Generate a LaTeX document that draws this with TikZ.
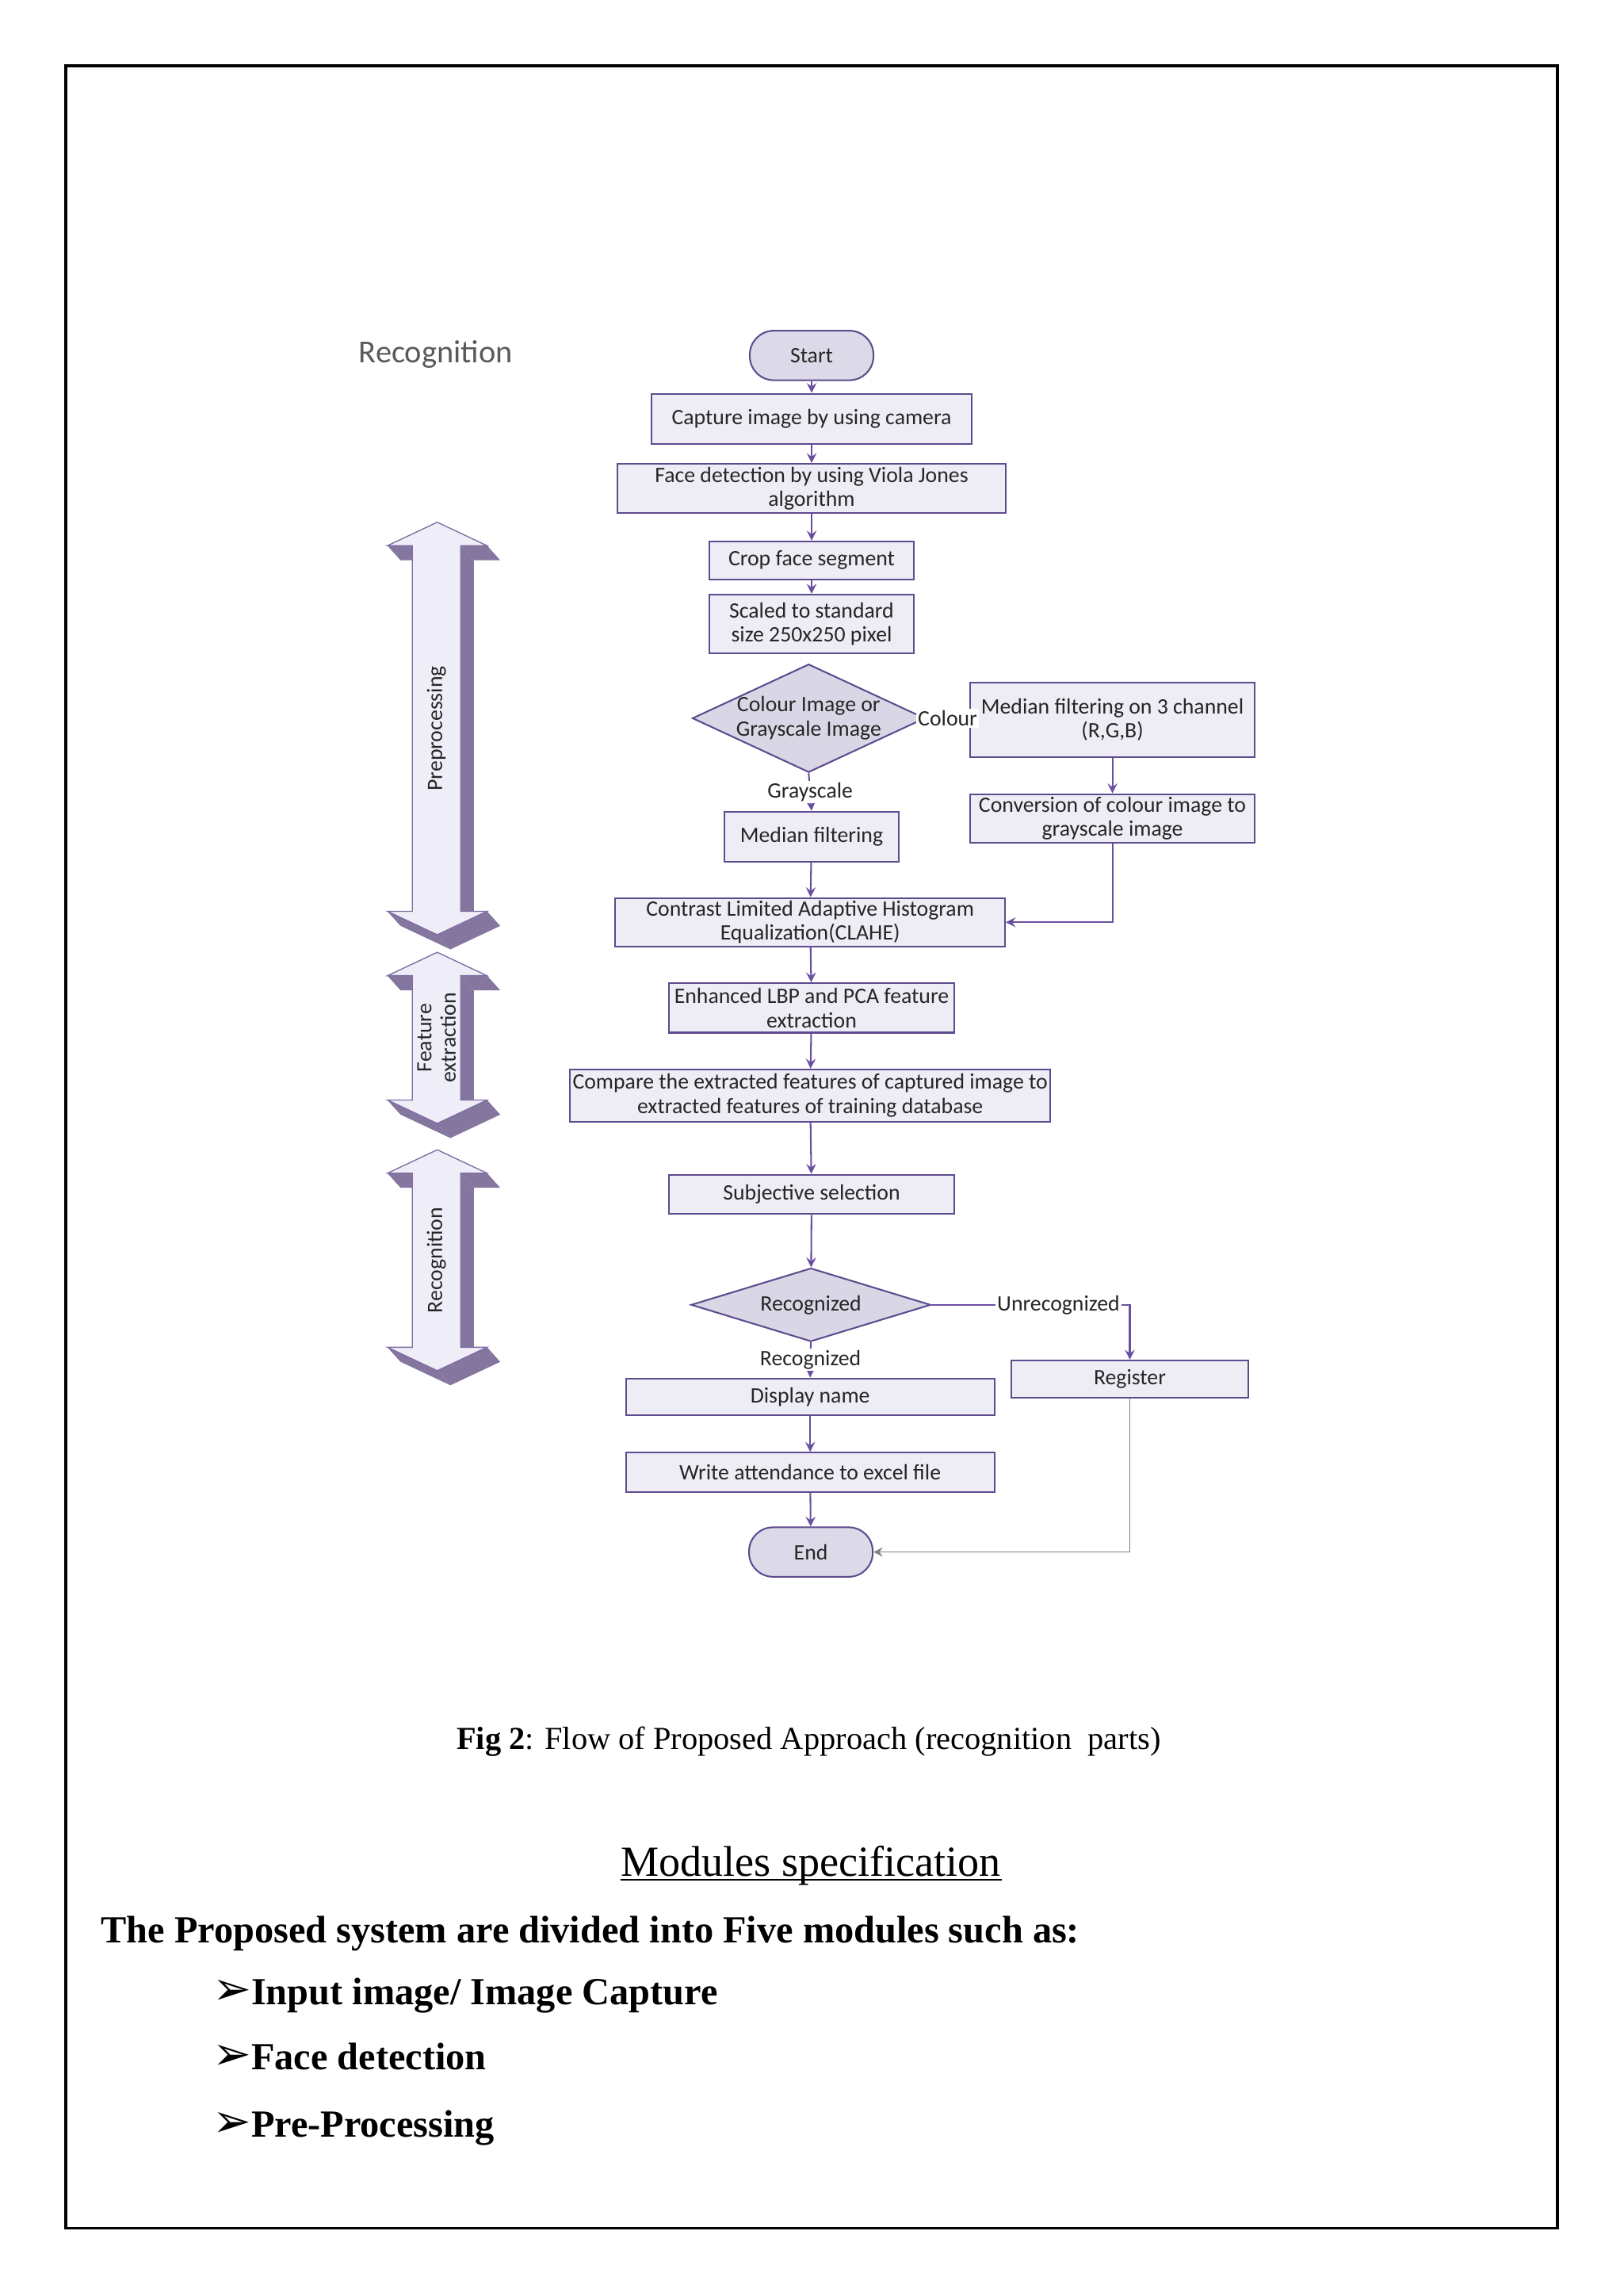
\documentclass[tikz,border=0pt]{standalone}
\usepackage{fontspec}
\setmainfont{Liberation Serif}
\newfontfamily\chartfont{Carlito}
\newfontfamily\dingfont{DejaVu Sans}
\usepackage{xcolor}
\usetikzlibrary{positioning, shapes.geometric, arrows}

\definecolor{boxline}{HTML}{5E4A8E}
\definecolor{boxfill}{HTML}{EEEDF5}
\definecolor{decfill}{HTML}{D9D7E5}
\definecolor{termfill}{HTML}{DCDAE8}
\definecolor{chartink}{HTML}{262626}
\definecolor{flowline}{HTML}{6A4FA0}
\definecolor{stagedark}{HTML}{85769F}
\definecolor{stagelight}{HTML}{EFEDF7}
\definecolor{titlegray}{HTML}{5A5A5A}

\newcommand{\charttext}{\chartfont\fontsize{8.1}{8.9}\selectfont}

\tikzset{
    procbox/.style={rectangle, draw=boxline, fill=boxfill, line width=0.6pt, text=chartink, font=\charttext, align=center, inner sep=1pt},
    decision/.style={diamond, draw=boxline, fill=decfill, line width=0.6pt, text=chartink, font=\charttext, align=center, inner sep=-1pt},
    terminal/.style={rectangle, rounded corners=3.1mm, draw=boxline, fill=termfill, line width=0.6pt, text=chartink, font=\charttext, minimum width=16mm, minimum height=6.4mm},
    flow/.style={-stealth, draw=flowline, line width=0.6pt},
    backflow/.style={-stealth, draw=gray, line width=0.5pt},
    flowlabel/.style={fill=white, inner sep=0.6pt, text=chartink, font=\charttext},
    stageface/.style={draw=boxline!80, fill=stagelight, line width=0.4pt},
    stagelabel/.style={rotate=90, text=chartink, font=\charttext, align=center},
}

% 3D double arrow at the left: #1 top tip, #2 bottom tip, #3 name, #4 label
\newcommand{\stagearrow}[4]{
    \coordinate (#3-1) at (299,#1);
    \coordinate (#3-2) at (333,#1+16);
    \coordinate (#3-3) at (315,#1+16);
    \coordinate (#3-4) at (315,#2-16);
    \coordinate (#3-5) at (333,#2-16);
    \coordinate (#3-6) at (299,#2);
    \coordinate (#3-7) at (265,#2-16);
    \coordinate (#3-8) at (282,#2-16);
    \coordinate (#3-9) at (282,#1+16);
    \coordinate (#3-10) at (265,#1+16);
    \foreach \i/\j in {1/2,2/3,3/4,4/5,5/6,6/7,7/8,8/9,9/10,10/1}
        \fill[stagedark] (#3-\i) -- (#3-\j) -- ([shift={(9,10)}]#3-\j) -- ([shift={(9,10)}]#3-\i) -- cycle;
    \draw[stageface] (#3-1) -- (#3-2) -- (#3-3) -- (#3-4) -- (#3-5) -- (#3-6) -- (#3-7) -- (#3-8) -- (#3-9) -- (#3-10) -- cycle;
    \node[stagelabel] (#3) at (298.5,{(#1+#2)/2}) {#4};
}

\begin{document}
\begin{tikzpicture}[x=0.18919mm, y=-0.18919mm]
    \useasboundingbox (0,0) rectangle (1110,1569.6);
    \draw[line width=0.9pt] (45,45) rectangle (1065,1523);

    \node[font=\chartfont\fontsize{11.8}{13}\selectfont, text=titlegray] (title) at (298,242) {Recognition};

    % stages
    \stagearrow{357}{639}{prep}{Preprocessing}
    \stagearrow{651}{768}{feat}{Feature\\extraction}
    \stagearrow{786}{937}{recg}{Recognition}

    % flow chart
    \node[terminal] (start) at (555,243) {Start};
    \node[procbox, minimum width=41.5mm, minimum height=6.5mm] (capture) at (555,286.3) {Capture image by using camera};
    \node[procbox, minimum width=50.3mm, minimum height=6.4mm] (face) at (555,334) {Face detection by using Viola Jones\\algorithm};
    \node[procbox, minimum width=26.5mm, minimum height=4.9mm] (crop) at (555,383) {Crop face segment};
    \node[procbox, minimum width=26.5mm, minimum height=7.6mm] (scaled) at (555,426.5) {Scaled to standard\\size 250x250 pixel};
    \node[decision, aspect=2.15, minimum width=30.1mm, minimum height=14mm] (colgray) at (553,491) {Colour Image or\\Grayscale Image};
    \node[procbox, minimum width=36.8mm, minimum height=9.6mm] (median3) at (760.7,492) {Median filtering on 3 channel\\(R,G,B)};
    \node[procbox, minimum width=36.8mm, minimum height=6.3mm] (convert) at (760.7,559.5) {Conversion of colour image to\\grayscale image};
    \node[procbox, minimum width=22.6mm, minimum height=6.5mm] (medf) at (555,572) {Median filtering};
    \node[procbox, minimum width=50.4mm, minimum height=6.3mm] (clahe) at (554,630.5) {Contrast Limited Adaptive Histogram\\Equalization(CLAHE)};
    \node[procbox, minimum width=36.9mm, minimum height=6.4mm] (lbp) at (555,689) {Enhanced LBP and PCA feature\\extraction};
    \node[procbox, minimum width=62.1mm, minimum height=6.8mm] (compare) at (554,749) {Compare the extracted features of captured image to\\extracted features of training database};
    \node[procbox, minimum width=36.9mm, minimum height=5.1mm] (subj) at (555,816.5) {Subjective selection};
    \node[decision, aspect=3.3, minimum width=31mm, minimum height=9.5mm] (recog) at (554.5,892) {Recognized};
    \node[procbox, minimum width=30.6mm, minimum height=4.8mm] (register) at (772.6,942.7) {Register};
    \node[procbox, minimum width=47.7mm, minimum height=4.8mm] (display) at (554,955) {Display name};
    \node[procbox, minimum width=47.7mm, minimum height=5.1mm] (write) at (554,1006.5) {Write attendance to excel file};
    \node[terminal] (end) at (554.5,1061) {End};

    \draw[flow] (start) -- (capture);
    \draw[flow] (capture) -- (face);
    \draw[flow] (face) -- (crop);
    \draw[flow] (crop) -- (scaled);
    \draw[draw=flowline, line width=0.6pt] (colgray.east) -- node[flowlabel] {Colour} (colgray.east -| median3.west);
    \draw[flow] (colgray.south) -- node[flowlabel] {Grayscale} (medf.north);
    \draw[flow] (median3) -- (convert);
    \draw[flow] (convert.south) |- (clahe.east);
    \draw[flow] (medf) -- (clahe);
    \draw[flow] (clahe) -- (lbp);
    \draw[flow] (lbp) -- (compare);
    \draw[flow] (compare) -- (subj);
    \draw[flow] (subj) -- (recog);
    \coordinate (unrecturn) at (register.north |- recog.east);
    \draw[flow] (recog.east) -- node[flowlabel, pos=0.64] {Unrecognized} (unrecturn) -- (register.north);
    \draw[flow] (recog.south) -- node[flowlabel] {Recognized} (display.north);
    \draw[flow] (display) -- (write);
    \draw[flow] (write) -- (end);
    \draw[backflow] (register.south) |- (end.east);

    % text below the figure
    \node[anchor=base, inner sep=0pt, font=\fontsize{11.8}{14}\selectfont] (caption) at (553,1196) {\textbf{Fig 2}: Flow of Proposed Approach (recognition\ \ parts)};
    \node[anchor=base, inner sep=0pt, font=\fontsize{15.8}{18}\selectfont] (modspec) at (554.5,1282.6) {Modules specification};
    \draw[line width=0.6pt] ([yshift=-1.3pt]modspec.base west) -- ([yshift=-1.3pt]modspec.base east);
    \node[anchor=base west, inner sep=0pt, font=\bfseries\fontsize{14.1}{17}\selectfont] (intro) at (68.7,1328) {The Proposed system are divided into Five modules such as:};
    \foreach \y/\t [count=\k] in {1370.5/{Input image/ Image Capture}, 1415/{Face detection}, 1461/{Pre-Processing}}
        \node[anchor=base west, inner sep=0pt, font=\bfseries\fontsize{14.1}{17}\selectfont] (mod\k) at (145,\y) {{\dingfont\fontsize{17}{19}\selectfont ➢}\t};
\end{tikzpicture}
\end{document}
